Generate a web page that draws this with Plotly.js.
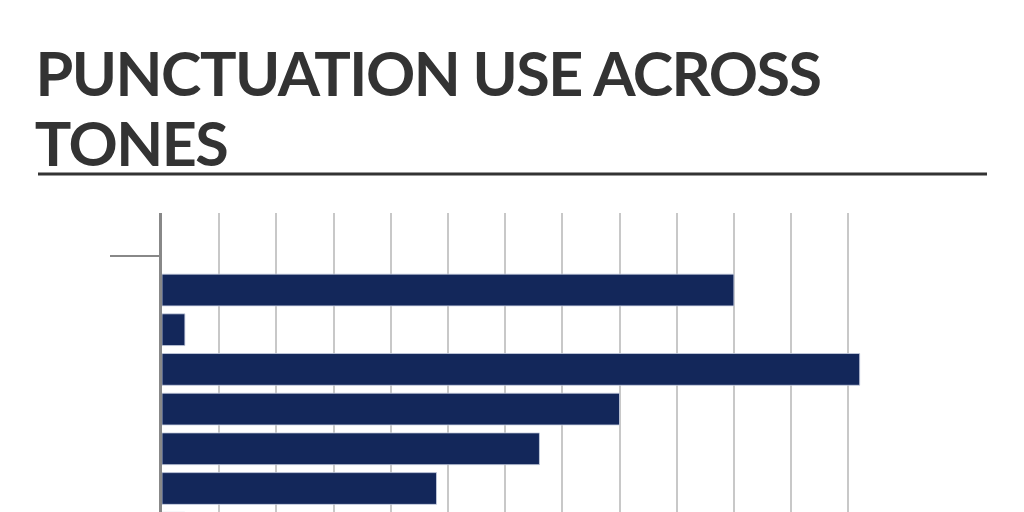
<!DOCTYPE html>
<html>
<head>
<meta charset="utf-8">
<script src="https://cdn.plot.ly/plotly-3.0.1.min.js"></script>
<style>
html, body { margin: 0; padding: 0; overflow: hidden; background: #fff; }
#chart { width: 1024px; height: 640px; }
#chart .annotation-text { letter-spacing: -1.5px; }
</style>
</head>
<body>
<div id="chart"></div>
<script>
const titleLine1 = "PUNCTUATION USE ACROSS";
const titleLine2 = "TONES";
const tones = ["Tone 1", "Tone 2", "Tone 3", "Tone 4", "Tone 5", "Tone 6", "Tone 7"];
const usage = [10.0, 0.4, 12.2, 8.0, 6.6, 4.8, 0.4];

const W = 1024, H = 640;
const mL = 162, mT = 213, mR = 130, mB = 88;
const plotW = W - mL - mR, plotH = H - mT - mB;
const px2paperX = px => (px - mL) / plotW;
const px2paperY = py => 1 + (mT - py) / plotH;

const titleFont = { family: "Lato, Roboto, sans-serif", size: 61, color: "#333333", weight: 700 };

const trace = {
  type: "bar",
  orientation: "h",
  y: tones,
  x: usage,
  marker: { color: "#13275a", line: { color: "rgba(200,208,225,0.8)", width: 1 } },
  hoverinfo: "x+y"
};

const layout = {
  width: W, height: H,
  margin: { l: mL, t: mT, r: mR, b: mB, pad: 0 },
  paper_bgcolor: "#ffffff",
  plot_bgcolor: "#ffffff",
  showlegend: false,
  bargap: 0.2,
  xaxis: {
    range: [0, 12.8],
    dtick: 1,
    tick0: 0,
    showgrid: true,
    gridcolor: "#c8c8c8",
    gridwidth: 2,
    zeroline: false,
    showline: false,
    ticks: "",
    showticklabels: false
  },
  yaxis: {
    type: "category",
    range: [6.6, -1.94],
    showgrid: false,
    zeroline: false,
    showline: true,
    linecolor: "#888888",
    linewidth: 3,
    tickmode: "array",
    tickvals: [-0.856],
    ticktext: [""],
    ticks: "outside",
    ticklen: 49,
    tickwidth: 2,
    tickcolor: "#888888",
    showticklabels: false
  },
  annotations: [
    { text: titleLine1, xref: "paper", yref: "paper", x: px2paperX(17), y: px2paperY(73),
      xanchor: "left", yanchor: "middle", showarrow: false, font: titleFont },
    { text: titleLine2, xref: "paper", yref: "paper", x: px2paperX(29), y: px2paperY(142),
      xanchor: "left", yanchor: "middle", showarrow: false, font: titleFont }
  ],
  shapes: [
    { type: "line", xref: "paper", yref: "paper",
      x0: px2paperX(38), x1: px2paperX(987), y0: px2paperY(174), y1: px2paperY(174),
      line: { color: "#333333", width: 3 } }
  ]
};

Plotly.newPlot("chart", [trace], layout, { displayModeBar: false, staticPlot: true });
</script>
</body>
</html>
